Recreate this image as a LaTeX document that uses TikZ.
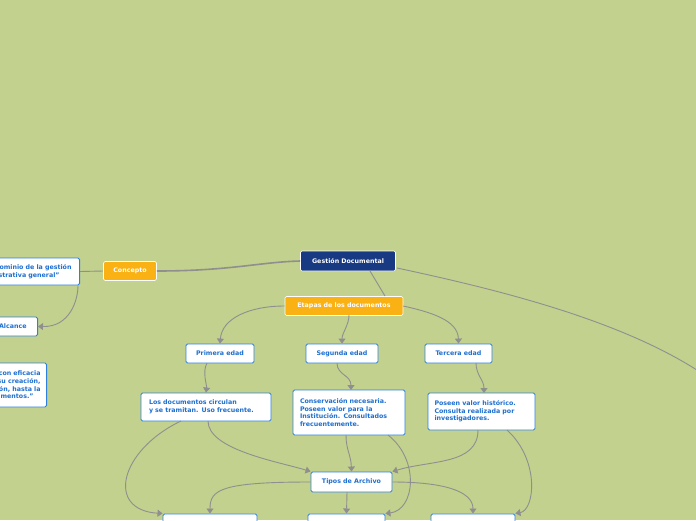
\documentclass[tikz,border=0pt]{standalone}
\usepackage{fontspec}
\setmainfont{DejaVu Sans}
\usetikzlibrary{arrows.meta}
\definecolor{bg}{HTML}{C2D18D}
\definecolor{navy}{HTML}{183A82}
\definecolor{orng}{HTML}{F9B114}
\definecolor{bblue}{HTML}{2F80D8}
\definecolor{tblue}{HTML}{1D6FD0}
\definecolor{lgray}{HTML}{8F8F8F}
\tikzset{
 base/.style={rounded corners=1.5pt,font=\bfseries\fontsize{6.3}{7.6}\selectfont,inner sep=0pt,align=left},
 wbox/.style={base,fill=white,draw=bblue,line width=0.9pt,text=tblue},
 obox/.style={base,fill=orng,draw=white,line width=0.6pt,text=white},
 nbox/.style={base,fill=navy,draw=white,line width=0.6pt,text=white},
 link/.style={draw=lgray,line width=0.9pt},
 arr/.style={link,-{Triangle[length=5pt,width=7pt]}}
}
\begin{document}
\begin{tikzpicture}[x=1pt,y=-1pt]
\fill[bg] (0,0) rectangle (696,520);
\clip (0,0) rectangle (696,520);
\useasboundingbox (0,0) rectangle (696,520);
% nodes
\node[nbox,minimum width=95,minimum height=20,align=center] (gd) at (348,261) {Gestión Documental};
\node[obox,minimum width=118,minimum height=19,align=center] (et) at (344,306) {Etapas de los documentos};
\node[obox,minimum width=53,minimum height=19,align=center] (co) at (130,271) {Concepto};
\node[wbox,minimum width=120,minimum height=27,anchor=east,text width=104] (def) at (80,271.5) {\hfill Dominio de la gestión\hspace*{12pt}\\\hfill administrativa general"\hspace*{12pt}};
\node[wbox,minimum width=70,minimum height=19,anchor=east,text width=60] (al) at (38,326.5) {\hfill Alcance\hspace*{6pt}};
\node[wbox,minimum width=120,minimum height=44,anchor=east,text width=108] (ob) at (47,385) {\hfill con eficacia\hspace*{7pt}\\\hfill desde su creación,\hspace*{7pt}\\\hfill recepción, hasta la\hspace*{7pt}\\\hfill de los documentos."\hspace*{7pt}};
\node[wbox,minimum width=68,minimum height=19,align=center] (e1) at (220,353.5) {Primera edad};
\node[wbox,minimum width=72,minimum height=19,align=center] (e2) at (342,353.5) {Segunda edad};
\node[wbox,minimum width=67,minimum height=19,align=center] (e3) at (458.5,353.5) {Tercera edad};
\node[wbox,minimum width=130,minimum height=28,text width=114] (d1) at (206,407) {Los documentos circulan\\y se tramitan. Uso frecuente.};
\node[wbox,minimum width=112,minimum height=45,text width=98] (d2) at (349,412.5) {Conservación necesaria.\\Poseen valor para la\\Institución. Consultados\\frecuentemente.};
\node[wbox,minimum width=107,minimum height=37,text width=94] (d3) at (481.5,411.5) {Poseen valor histórico.\\Consulta realizada por\\investigadores.};
\node[wbox,minimum width=81,minimum height=20,align=center] (ti) at (351.5,482) {Tipos de Archivo};
\node[wbox,minimum width=94,minimum height=20,anchor=north] (b1) at (210,513.5) {};
\node[wbox,minimum width=77,minimum height=20,anchor=north] (b2) at (346.5,513.5) {};
\node[wbox,minimum width=84,minimum height=20,anchor=north] (b3) at (473,513.5) {};
% connectors
\begin{scope}[on background layer/.style={}]
\end{scope}
\draw[link,line width=1.6pt] (gd.west) .. controls (260,262) and (230,271) .. (co.east);
\draw[link] (co.west) -- (def.east);
\draw[arr] ([xshift=-2pt]def.south east) .. controls (78,300) and (70,327) .. (al.east);
\draw[link] (370,271) -- (385,296);
\draw[link] (397,268) .. controls (500,290) and (620,320) .. (700,372);
\draw[arr] (et.west) .. controls (250,306) and (222,318) .. (e1.north);
\draw[arr] (349,315) .. controls (349,325) and (342,333) .. (e2.north);
\draw[arr] (et.east) .. controls (430,312) and (458,320) .. (e3.north);
\draw[arr] (207,363) .. controls (202,372) and (207,385) .. (d1.north);
\draw[arr] (337,363) .. controls (337,375) and (351,375) .. (351,390);
\draw[arr] (476,363) .. controls (476,375) and (484,380) .. (484,393);
\draw[arr] (208,421) .. controls (208,450) and (280,462) .. (ti.north west);
\draw[arr] (346,435) .. controls (346,450) and (351,455) .. (ti.north);
\draw[arr] (478,430) .. controls (478,465) and (430,460) .. (ti.north east);
\draw[arr] (181,421) .. controls (120,450) and (105,510) .. (b1.north west);
\draw[arr] (388,435) .. controls (420,460) and (415,510) .. (b2.north east);
\draw[arr] (507,430) .. controls (540,460) and (535,510) .. (b3.north east);
\draw[arr] (ti.west) .. controls (220,482) and (210,490) .. (b1.north);
\draw[arr] (347,492) -- (b2.north);
\draw[arr] (ti.east) .. controls (440,482) and (473,490) .. (b3.north);
\end{tikzpicture}
\end{document}
